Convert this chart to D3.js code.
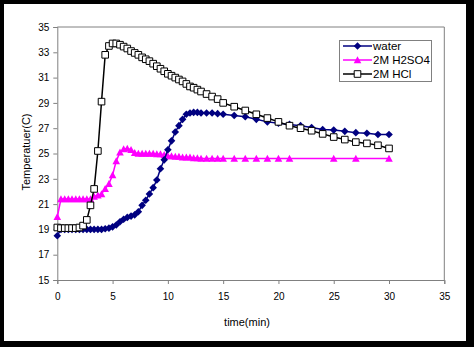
<!DOCTYPE html>
<html><head><meta charset="utf-8">
<script src="https://cdn.jsdelivr.net/npm/d3@7"></script>
<style>html,body{margin:0;padding:0;background:#000;}svg{display:block;}</style>
</head><body>
<script>
const timeMain = [0,0.33,0.67,1,1.33,1.67,2,2.33,2.67,3,3.33,3.67,4,4.33,4.67,5,5.33,5.67,6,6.33,6.67,7,7.33,7.67,8,8.33,8.67,9,9.33,9.67,10,10.33,10.67,11,11.33,11.67,12,12.33,12.67,13,13.5,14,14.5,15,16,17,18,19,20,21,22,23,24,25,26,27,28,29,30];
const water = [18.5,19.0,19.0,19.0,19.0,19.0,19.0,19.0,19.0,19.0,19.0,19.0,19.0,19.05,19.1,19.2,19.35,19.6,19.8,19.95,20.05,20.15,20.4,20.9,21.3,21.8,22.3,22.9,23.8,24.5,25.3,26.0,26.7,27.2,27.7,28.1,28.2,28.25,28.25,28.2,28.2,28.2,28.15,28.1,28.0,27.9,27.7,27.5,27.4,27.3,27.2,27.05,26.9,26.85,26.75,26.65,26.6,26.5,26.5];
const hcl = [19.15,19.1,19.1,19.1,19.1,19.1,19.15,19.3,19.75,20.9,22.2,25.2,29.1,32.8,33.5,33.7,33.7,33.6,33.45,33.3,33.1,32.95,32.8,32.6,32.45,32.3,32.1,31.9,31.7,31.5,31.3,31.15,31.0,30.85,30.7,30.5,30.3,30.2,30.05,29.9,29.7,29.5,29.3,29.0,28.7,28.4,28.1,27.8,27.5,27.2,27.0,26.8,26.55,26.3,26.1,25.9,25.8,25.65,25.4];
const timeH2SO4 = [0,0.33,0.67,1,1.33,1.67,2,2.33,2.67,3,3.33,3.67,4,4.33,4.67,5,5.33,5.67,6,6.33,6.67,7,7.33,7.67,8,8.33,8.67,9,9.33,9.67,10,10.33,10.67,11,11.33,11.67,12,12.33,12.67,13,13.5,14,14.5,15,16,17,18,19,20,21,25,27,30];
const h2so4 = [20.0,21.4,21.4,21.4,21.4,21.4,21.4,21.4,21.4,21.4,21.6,21.7,21.8,22.2,22.6,23.3,24.4,25.1,25.35,25.4,25.3,25.05,25.0,25.0,25.0,25.0,25.0,24.95,24.95,24.9,24.8,24.8,24.75,24.75,24.7,24.7,24.7,24.65,24.65,24.6,24.6,24.6,24.6,24.6,24.6,24.6,24.6,24.6,24.6,24.6,24.6,24.6,24.6];
const xTicks = [0,5,10,15,20,25,30,35];
const yTicks = [15,17,19,21,23,25,27,29,31,33,35];
const seriesNames = ["water","2M H2SO4","2M HCl"];

const W = 474, H = 347;
const svg = d3.select("body").append("svg").attr("width", W).attr("height", H);
svg.append("rect").attr("width", W).attr("height", H).attr("fill", "#000");
svg.append("rect").attr("x", 4).attr("y", 4).attr("width", 462).attr("height", 337).attr("fill", "#fff");

const pLeft = 57.3, pRight = 444.3, pTop = 27, pBottom = 280;
const x = d3.scaleLinear().domain([0, 35]).range([pLeft, pRight]);
const y = d3.scaleLinear().domain([15, 35]).range([pBottom, pTop]);
const font = "'Liberation Sans', Arial, sans-serif";

// plot frame (top & right)
svg.append("path").attr("d", `M${pLeft},${pTop}H${pRight}V${pBottom}`).attr("fill", "none").attr("stroke", "#808080").attr("stroke-width", 1);

const xAxis = svg.append("g").attr("transform", `translate(0,${pBottom})`)
  .call(d3.axisBottom(x).tickValues(xTicks).tickSize(4).tickPadding(9).tickFormat(d3.format("d")));
const yAxis = svg.append("g").attr("transform", `translate(${pLeft},0)`)
  .call(d3.axisLeft(y).tickValues(yTicks).tickSize(4).tickPadding(4).tickFormat(d3.format("d")));
[xAxis, yAxis].forEach(a => {
  a.select(".domain").attr("stroke", "#808080");
  a.selectAll(".tick line").attr("stroke", "#808080");
  a.selectAll(".tick text").attr("font-family", font).attr("font-size", 10).attr("fill", "#000");
});

svg.append("text").attr("x", 247).attr("y", 326).attr("text-anchor", "middle")
  .attr("font-family", font).attr("font-size", 11).text("time(min)");
svg.append("text").attr("transform", "translate(30,152) rotate(-90)").attr("text-anchor", "middle")
  .attr("font-family", font).attr("font-size", 11).text("Temperatuer(C)");

const diamond = "M0,-3.8L3.8,0L0,3.8L-3.8,0Z";
const triangle = "M0,-3.8L3.8,3.2L-3.8,3.2Z";
const square = "M-3.3,-3.3H3.3V3.3H-3.3Z";

function drawSeries(ts, vs, color, marker, fill, strokeMarker) {
  const pts = ts.map((t, i) => [t, vs[i]]);
  svg.append("path").datum(pts)
    .attr("d", d3.line().x(d => x(d[0])).y(d => y(d[1])))
    .attr("fill", "none").attr("stroke", color).attr("stroke-width", 1.5);
  svg.append("g").selectAll("path").data(pts).join("path")
    .attr("d", marker)
    .attr("transform", d => `translate(${x(d[0])},${y(d[1])})`)
    .attr("fill", fill).attr("stroke", strokeMarker).attr("stroke-width", 1);
}
drawSeries(timeH2SO4, h2so4, "#FF00FF", triangle, "#FF00FF", "none");
drawSeries(timeMain, water, "#000080", diamond, "#000080", "none");
drawSeries(timeMain, hcl, "#000000", square, "#fff", "#000");

// legend
const lg = svg.append("g");
lg.append("rect").attr("x", 339.5).attr("y", 40.5).attr("width", 92).attr("height", 41)
  .attr("fill", "#fff").attr("stroke", "#808080");
const legendDefs = [
  {name: seriesNames[0], color: "#000080", marker: diamond, fill: "#000080", st: "none"},
  {name: seriesNames[1], color: "#FF00FF", marker: triangle, fill: "#FF00FF", st: "none"},
  {name: seriesNames[2], color: "#000000", marker: square, fill: "#fff", st: "#000"}
];
legendDefs.forEach((d, i) => {
  const cy = 46 + i * 14;
  lg.append("line").attr("x1", 343).attr("x2", 372).attr("y1", cy).attr("y2", cy)
    .attr("stroke", d.color).attr("stroke-width", 1.5);
  lg.append("path").attr("d", d.marker).attr("transform", `translate(357.5,${cy})`)
    .attr("fill", d.fill).attr("stroke", d.st);
  lg.append("text").attr("x", 373).attr("y", cy).attr("dy", "0.35em")
    .attr("font-family", font).attr("font-size", 11.5).text(d.name);
});
</script>
</body></html>
